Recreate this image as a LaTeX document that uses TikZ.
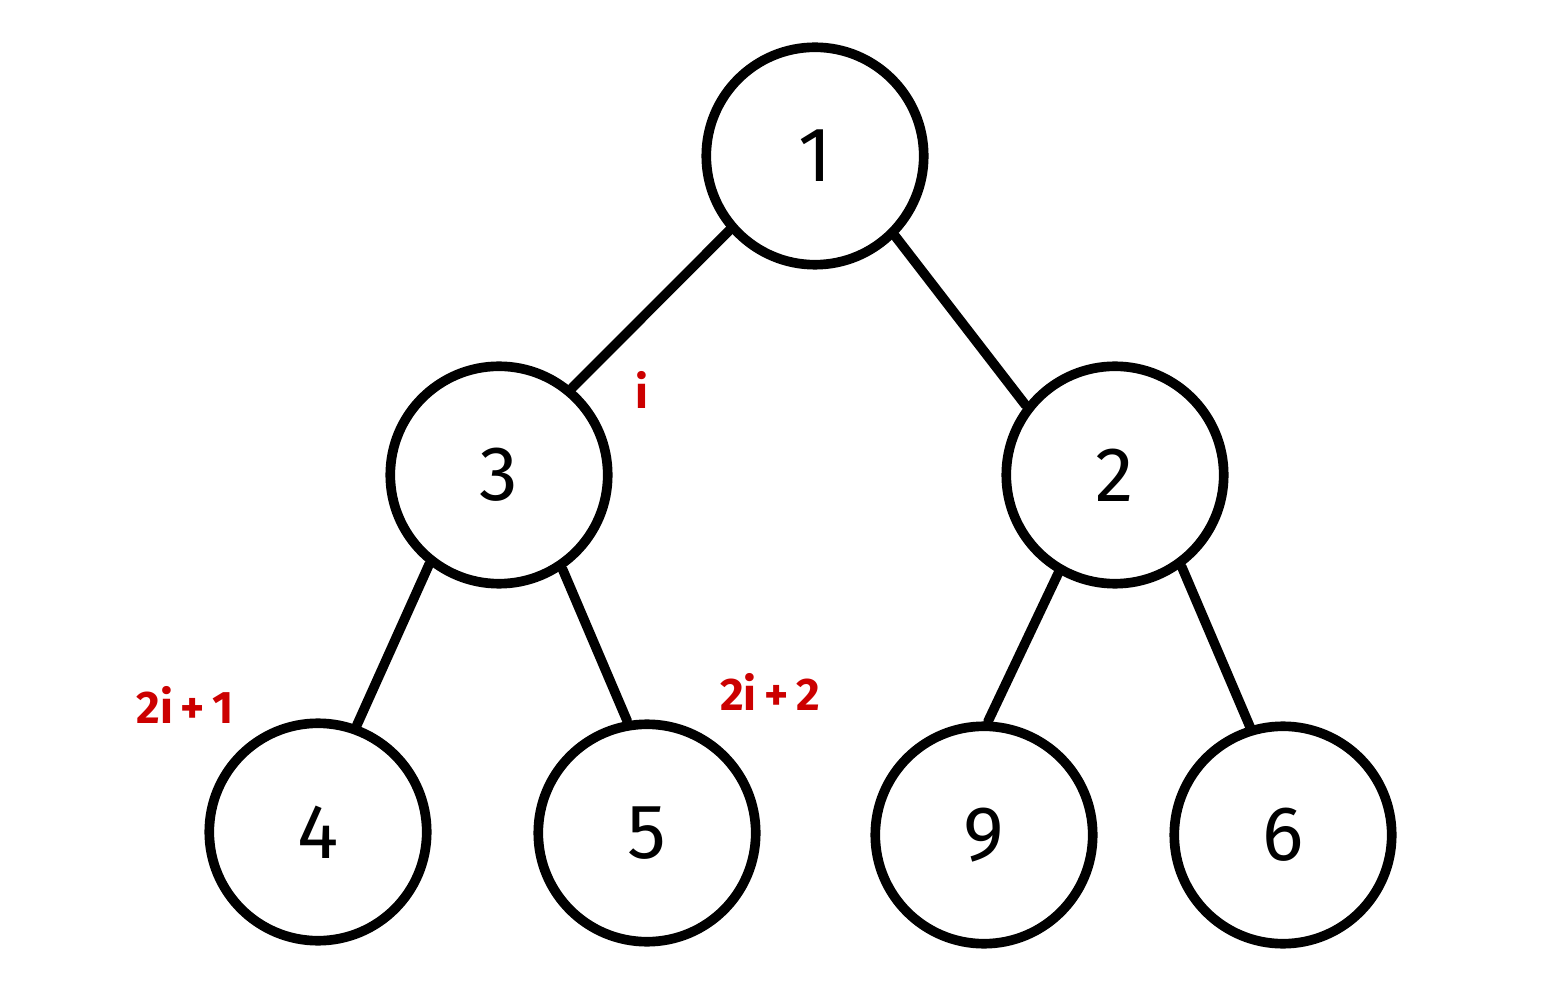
\documentclass[tikz,border=0pt]{standalone}
\usepackage{fontspec}
\setmainfont{Fira Sans}
\begin{document}
\begin{tikzpicture}[x=0.02cm,y=-0.02cm,
  tn/.style={circle,draw,line width=5.5pt,minimum size=4.35cm,inner sep=0pt,font=\fontsize{44}{48}\selectfont},
  ed/.style={line width=5.5pt,line cap=round},
  lab/.style={text=red!80!black,font=\fontsize{26}{30}\selectfont\bfseries}]
\useasboundingbox (0,0) rectangle (1552,999);
\node[tn] (n1) at (815,156) {1};
\node[tn] (n3) at (499,475) {3};
\node[tn] (n2) at (1115,475) {2};
\node[tn] (n4) at (318,832) {4};
\node[tn] (n5) at (647,833) {5};
\node[tn] (n9) at (984,835) {9};
\node[tn] (n6) at (1283,835) {6};
\draw[ed] (n1.221) -- (n3.50);
\draw[ed] (n1.315) -- (n2.142);
\draw[ed] (n3.232) -- (n4.70);
\draw[ed] (n3.304) -- (n5.100);
\draw[ed] (n2.240) -- (n9.88);
\draw[ed] (n2.306) -- (n6.107);
\node[lab] (li) at (642,390) {i};
\node[lab] (l1) at (185,705) {2i\,+\,1};
\node[lab] (l2) at (770,692) {2i\,+\,2};
\end{tikzpicture}
\end{document}
